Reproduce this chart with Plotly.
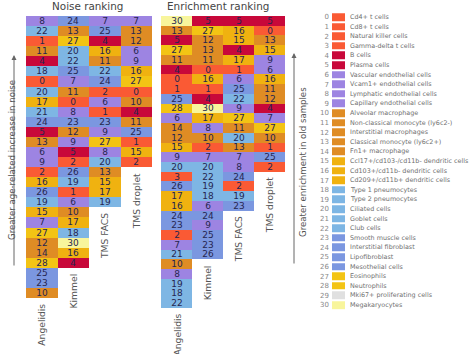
import plotly.graph_objects as go

datasets = ["Angelidis", "Kimmel", "TMS FACS", "TMS droplet"]

noise_angelidis = [8, 22, 1, 11, 4, 18, 0, 20, 17, 21, 24, 5, 13, 6, 9, 2, 16, 26, 19, 15, 7, 27, 12, 14, 28, 25, 23, 10]
noise_kimmel = [24, 13, 27, 20, 22, 25, 7, 11, 0, 8, 23, 12, 9, 5, 2, 26, 19, 1, 6, 10, 17, 18, 30, 16, 4]
noise_tms_facs = [7, 25, 4, 16, 11, 22, 24, 2, 6, 1, 23, 9, 27, 8, 20, 13, 15, 17, 19]
noise_tms_droplet = [7, 13, 12, 6, 9, 16, 27, 0, 10, 4, 11, 25, 1, 15, 2]

enrich_angelidis = [30, 13, 5, 27, 11, 4, 0, 1, 25, 28, 6, 14, 12, 15, 9, 20, 3, 26, 17, 16, 24, 23, 2, 7, 21, 10, 8, 19, 18, 22]
enrich_kimmel = [5, 27, 12, 13, 11, 0, 16, 1, 4, 30, 17, 8, 10, 2, 7, 20, 22, 19, 18, 6, 24, 9, 25, 23, 26]
enrich_tms_facs = [5, 16, 15, 4, 17, 1, 6, 25, 22, 9, 27, 11, 20, 13, 7, 8, 24, 2, 19, 23]
enrich_tms_droplet = [5, 0, 13, 15, 9, 6, 16, 11, 12, 4, 7, 27, 10, 1, 25, 2]

cell_types = ["Cd4+ t cells", "Cd8+ t cells", "Natural killer cells", "Gamma-delta t cells",
              "B cells", "Plasma cells", "Vascular endothelial cells", "Vcam1+ endothelial cells",
              "Lymphatic endothelial cells", "Capillary endothelial cells", "Alveolar macrophage",
              "Non-classical monocyte (ly6c2-)", "Interstitial macrophages", "Classical monocyte (ly6c2+)",
              "Fn1+ macrophage", "Ccl17+/cd103-/cd11b- dendritic cells", "Cd103+/cd11b- dendritic cells",
              "Cd209+/cd11b+ dendritic cells", "Type 1 pneumocytes", "Type 2 pneumocytes", "Ciliated cells",
              "Goblet cells", "Club cells", "Smooth muscle cells", "Interstitial fibroblast", "Lipofibroblast",
              "Mesothelial cells", "Eosinophils", "Neutrophils", "Mki67+ proliferating cells", "Megakaryocytes"]

group_colors = {"t": "#FA5A34", "b": "#C8083A", "endo": "#9D84E2", "mac": "#DF8C24",
                "dc": "#F0B210", "epi": "#7EB6E4", "strom": "#7B97E0", "gran": "#F3C414",
                "prolif": "#E0E0E0", "mega": "#F8F59C"}
type_group = ["t"] * 4 + ["b"] * 2 + ["endo"] * 4 + ["mac"] * 5 + ["dc"] * 3 + ["epi"] * 5 + \
             ["strom"] * 4 + ["gran"] * 2 + ["prolif", "mega"]
type_colors = [group_colors[g] for g in type_group]

N = len(cell_types)
colorscale = []
for i, c in enumerate(type_colors):
    colorscale.append([i / N, c])
    colorscale.append([(i + 1) / N, c])

W, H = 474, 354
def px(x):
    return x / W
def py(y):
    return 1 - y / H

FONT = "DejaVu Sans"
TXT = "#262650"
GRAY = "#555555"


def grid(cols):
    n = max(len(c) for c in cols)
    z, t = [], []
    for r in range(n):
        zr, tr = [], []
        for c in cols:
            if r < len(c):
                zr.append(c[r]); tr.append(str(c[r]))
            else:
                zr.append(None); tr.append("")
        z.append(zr); t.append(tr)
    return z, t, n


noise_cols = [noise_angelidis, noise_kimmel, noise_tms_facs, noise_tms_droplet]
enrich_cols = [enrich_angelidis, enrich_kimmel, enrich_tms_facs, enrich_tms_droplet]

fig = go.Figure()

zn, tn, nn = grid(noise_cols)
ze, te, ne = grid(enrich_cols)

for (z, t, n, xa, ya) in [(zn, tn, nn, "x", "y"), (ze, te, ne, "x2", "y2")]:
    fig.add_trace(go.Heatmap(z=z, text=t, texttemplate="%{text}", x=list(range(4)), y=list(range(n)),
                             colorscale=colorscale, zmin=-0.5, zmax=N - 0.5, showscale=False,
                             textfont=dict(family=FONT, size=9, color=TXT), hoverinfo="skip",
                             xaxis=xa, yaxis=ya))

# legend swatches
fig.add_trace(go.Heatmap(z=[[i] for i in range(N)], x=[0], y=list(range(N)), colorscale=colorscale,
                         zmin=-0.5, zmax=N - 0.5, showscale=False, ygap=2, hoverinfo="skip",
                         xaxis="x3", yaxis="y3"))

hidden = dict(showgrid=False, zeroline=False, showticklabels=False, ticks="", showline=False)
fig.update_layout(
    width=W, height=H, margin=dict(l=0, r=0, t=0, b=0),
    paper_bgcolor="white", plot_bgcolor="rgba(0,0,0,0)",
    xaxis=dict(domain=[px(26), px(152)], range=[-0.5, 3.5], anchor="y", **hidden),
    yaxis=dict(domain=[py(16 + nn * 10.07), py(16)], range=[nn - 0.5, -0.5], anchor="x", **hidden),
    xaxis2=dict(domain=[px(161), px(285)], range=[-0.5, 3.5], anchor="y2", **hidden),
    yaxis2=dict(domain=[py(308), py(16)], range=[ne - 0.5, -0.5], anchor="x2", **hidden),
    xaxis3=dict(domain=[px(332), px(345)], range=[-0.5, 0.5], anchor="y3", **hidden),
    yaxis3=dict(domain=[py(309.8), py(12.2)], range=[N - 0.5, -0.5], anchor="x3", showgrid=False,
                zeroline=False, ticks="", showline=False, tickvals=list(range(N)),
                ticktext=[str(i) for i in range(N)],
                tickfont=dict(family=FONT, size=7, color="#888888"), ticklabelstandoff=2),
)

ann = []
# legend names
for i, name in enumerate(cell_types):
    ann.append(dict(x=px(348), xref="paper", y=i, yref="y3", text=name, showarrow=False,
                    xanchor="left", yanchor="middle", font=dict(family=FONT, size=6.4, color="#707070")))
# titles
ann.append(dict(x=px(87), y=py(6), xref="paper", yref="paper", text="Noise ranking", showarrow=False,
                xanchor="center", yanchor="middle", font=dict(family=FONT, size=10.4, color="#444444")))
ann.append(dict(x=px(218), y=py(6), xref="paper", yref="paper", text="Enrichment ranking", showarrow=False,
                xanchor="center", yanchor="middle", font=dict(family=FONT, size=10.4, color="#444444")))
# column labels
for cols, xa, ya in [(noise_cols, "x", "y"), (enrich_cols, "x2", "y2")]:
    for j, (name, c) in enumerate(zip(datasets, cols)):
        ann.append(dict(x=j, xref=xa, y=len(c) - 0.5, yref=ya, text=name, showarrow=False,
                        textangle=-90, xanchor="center", yanchor="top", yshift=-4,
                        font=dict(family=FONT, size=9.2, color=GRAY)))
# side arrows
for xa, yt, yb in [(14, 55, 267), (294, 53, 265)]:
    ann.append(dict(x=px(xa), y=py(yt), xref="paper", yref="paper", ax=0, ay=yb - yt, text="",
                    showarrow=True, arrowhead=2, arrowsize=1, arrowwidth=1, arrowcolor="#666666"))
ann.append(dict(x=px(5), y=py(160), xref="paper", yref="paper", text="Greater age-related increase in noise",
                showarrow=False, textangle=-90, font=dict(family=FONT, size=8.6, color=GRAY)))
ann.append(dict(x=px(303), y=py(162), xref="paper", yref="paper", text="Greater enrichment in old samples",
                showarrow=False, textangle=-90, font=dict(family=FONT, size=8.6, color=GRAY)))

fig.update_layout(annotations=ann)
fig.write_html("out.html")
